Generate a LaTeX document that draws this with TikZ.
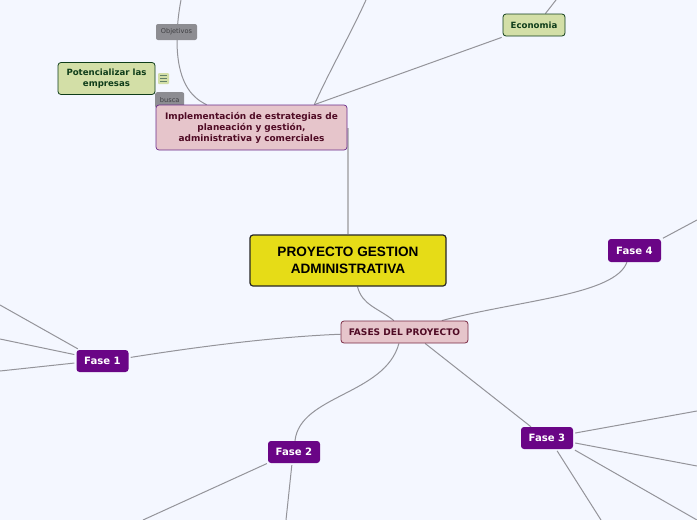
\documentclass[tikz,border=0pt]{standalone}
\usepackage{fontspec}
\usetikzlibrary{backgrounds}
\setmainfont{DejaVu Sans}
\newfontfamily\titlefont{Liberation Sans}
\definecolor{bgc}{HTML}{F4F7FF}
\definecolor{linec}{HTML}{94949A}
\definecolor{rootfill}{HTML}{E6DC17}
\definecolor{pinkfill}{HTML}{E6C5CB}
\definecolor{pinktext}{HTML}{4F0A24}
\definecolor{pinkedge}{HTML}{6B2C8A}
\definecolor{pinkedgeb}{HTML}{7A2B45}
\definecolor{greenfill}{HTML}{D3DFA7}
\definecolor{greentext}{HTML}{0F3D1A}
\definecolor{purplefill}{HTML}{6A0586}
\definecolor{tagfill}{HTML}{8D8D92}
\definecolor{tagtext}{HTML}{3E3E42}
\tikzset{
  x=1pt,y=-1pt,
  base/.style={rounded corners=3pt,inner sep=0pt,align=center,font=\bfseries},
  rootbox/.style={base,draw=black!85,line width=1.2pt,fill=rootfill,minimum width=196pt,minimum height=51pt,font=\titlefont\bfseries\fontsize{13.6}{17.5}\selectfont},
  implbox/.style={base,draw=pinkedge,line width=0.7pt,fill=pinkfill,text=pinktext,minimum width=191pt,minimum height=45pt,font=\bfseries\fontsize{8.95}{11}\selectfont},
  fasesbox/.style={base,draw=pinkedgeb,line width=0.8pt,fill=pinkfill,text=pinktext,minimum width=127pt,minimum height=22pt,font=\bfseries\fontsize{9.05}{10}\selectfont},
  greenbox/.style={base,draw=greentext,line width=0.8pt,fill=greenfill,text=greentext,font=\bfseries\fontsize{8.6}{10.5}\selectfont},
  phasebox/.style={base,fill=purplefill,text=white,minimum width=52pt,minimum height=22pt,font=\bfseries\fontsize{10.1}{11}\selectfont},
  tagbox/.style={rounded corners=2pt,inner sep=0pt,fill=tagfill,text=tagtext,font=\fontsize{6.6}{8}\selectfont},
  conn/.style={draw=linec,line width=1pt},
  trunk/.style={draw=linec!65,line width=1.5pt},
}
\begin{document}
\begin{tikzpicture}
\useasboundingbox (0,0) rectangle (697,520);
\coordinate (f1a) at (0,305);
\coordinate (f1b) at (0,339);
\coordinate (f1c) at (0,371);
\coordinate (f2a) at (143,520);
\coordinate (f2b) at (286,520);
\coordinate (f3a) at (697,411);
\coordinate (f3b) at (697,466);
\coordinate (f3c) at (697,520);
\coordinate (f3d) at (601,520);
\coordinate (f4a) at (697,220);
\coordinate (ecoa) at (556,0);
\coordinate (impla) at (366,0);
\coordinate (implb) at (181,0);
% nodes
\node[rootbox] (root) at (348,260.5) {PROYECTO GESTION\\ADMINISTRATIVA};
\node[tagbox,minimum width=41pt,minimum height=16pt] (objetivos) at (176.5,32) {Objetivos};
\node[tagbox,minimum width=29pt,minimum height=16pt,anchor=north west] (busca) at (155,92) {busca};
\node[implbox] (impl) at (251.5,127.5) {Implementación de estrategias de\\planeación y gestión,\\administrativa y comerciales};
\node[fasesbox] (fases) at (404.5,332) {\raisebox{-0.7pt}{FASES DEL PROYECTO}};
\node[greenbox,minimum width=62pt,minimum height=22pt] (eco) at (534,25) {Economia};
\node[greenbox,minimum width=97pt,minimum height=32pt] (pot) at (106.5,78.5) {Potencializar las\\empresas};
\node[phasebox] (fase1) at (102.5,361) {\raisebox{-0.7pt}{Fase 1}};
\node[phasebox] (fase2) at (294,452) {\raisebox{-0.7pt}{Fase 2}};
\node[phasebox] (fase3) at (547,438) {\raisebox{-0.7pt}{Fase 3}};
\node[phasebox,minimum width=53pt,minimum height=23pt] (fase4) at (634.5,250.5) {\raisebox{-0.7pt}{Fase 4}};
\node[rounded corners=1pt,fill=greenfill,minimum width=11pt,minimum height=11pt,inner sep=0pt] (note) at (163.5,78.5) {};
\draw[greentext!65,line width=0.6pt] (160,75.5) -- (167,75.5) (160,78.5) -- (167,78.5) (160,81.5) -- (167,81.5);
% connectors, under every node
\begin{scope}[on background layer]
\fill[bgc] (0,0) rectangle (697,520);
\draw[trunk] (root.north) -- (root.north |- impl.east);
\draw[conn] (impl.20.7) .. controls (330,70) and (350,35) .. (impla);
\draw[conn] (impl.20.7) -- ([shift={(-1pt,-1pt)}]eco.200);
\draw[conn] (eco.45) -- (ecoa);
\draw[conn] (impl.153) .. controls (190,97) and (177,80) .. (177,40) .. controls (177,25) and (179,10) .. (implb);
\draw[conn] (root.-70.6) .. controls (362,305) and (378,308) .. (fases.133.7);
\draw[conn] (fases.182) .. controls (270,337) and (190,348) .. ([shift={(2pt,-1pt)}]fase1.10);
\draw[conn] (fases.-116.6) .. controls (385,395) and (300,395) .. (fase2.85);
\draw[conn] (fases.-29.4) -- (fase3.145);
\draw[conn] (fases.17.7) .. controls (520,300) and (615,295) .. (fase4.-123);
\draw[conn,shorten <=2pt] (fase1.154) -- (f1a);
\draw[conn,shorten <=2pt] (fase1.167.7) -- (f1b);
\draw[conn,shorten <=2pt] (fase1.184) -- (f1c);
\draw[conn,shorten <=1pt] (fase2.203) -- (f2a);
\draw[conn,shorten <=2pt] (fase2.-100) -- (f2b);
\draw[conn,shorten <=2pt] (fase3.10) -- (f3a);
\draw[conn,shorten <=2pt] (fase3.-10) -- (f3b);
\draw[conn,shorten <=2pt] (fase3.-23) -- (f3c);
\draw[conn,shorten <=2pt] (fase3.-51) -- (f3d);
\draw[conn,shorten <=2pt] (fase4.23) -- (f4a);
\end{scope}
\end{tikzpicture}
\end{document}
